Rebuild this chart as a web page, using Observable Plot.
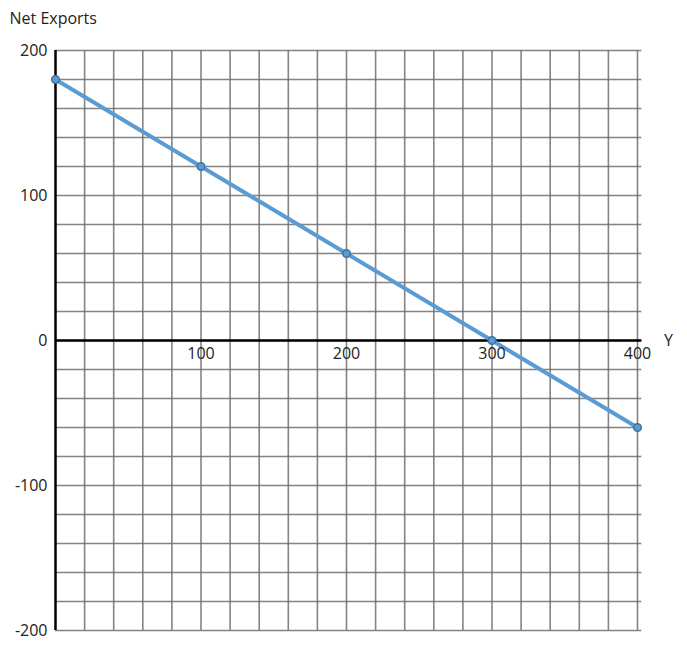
<!DOCTYPE html>
<html>
<head>
<meta charset="utf-8">
<script src="https://cdn.jsdelivr.net/npm/d3@7"></script>
<script src="https://cdn.jsdelivr.net/npm/@observablehq/plot@0.6"></script>
<style>
  html, body { margin: 0; padding: 0; background: #fff; }
  #chart svg { display: block; }
</style>
</head>
<body>
<div id="chart"></div>
<script>
const incomeY = [0, 100, 200, 300, 400];
const netExports = [180, 120, 60, 0, -60];
const xTickLabels = [100, 200, 300, 400];
const yTickLabels = [200, 100, 0, -100, -200];
const xGridLines = d3.range(20, 401, 20);
const yGridLines = d3.range(-200, 201, 20);
const data = incomeY.map((x, i) => ({x, y: netExports[i]}));

const font = "'Open Sans', 'Noto Sans', sans-serif";
const blue = "#5b9bd5";

const chart = Plot.plot({
  width: 687,
  height: 655,
  marginLeft: 55,
  marginRight: 50,
  marginTop: 50,
  marginBottom: 25,
  style: {fontFamily: font, fontSize: "16px", color: "#222", background: "#fff"},
  x: {domain: [0, 400], axis: null},
  y: {domain: [-200, 200], axis: null},
  marks: [
    Plot.ruleX(xGridLines, {x: d => d, y1: -200, y2: 200, stroke: "#6e6e6e", strokeWidth: 1.6, strokeOpacity: 0.85}),
    Plot.ruleY(yGridLines, {y: d => d, x1: 0, x2: 403, stroke: "#6e6e6e", strokeWidth: 1.6, strokeOpacity: 0.85}),
    Plot.ruleX([0], {y1: -200, y2: 200, stroke: "#000", strokeWidth: 2.5}),
    Plot.ruleY([0], {x1: 0, x2: 403, stroke: "#000", strokeWidth: 2.5}),
    Plot.line(data, {x: "x", y: "y", stroke: blue, strokeWidth: 4}),
    Plot.dot(data, {x: "x", y: "y", r: 3.8, fill: blue, stroke: "#41719c", strokeWidth: 1.5}),
    Plot.text(xTickLabels, {x: d => d, y: 0, dy: 13, text: d => String(d), fontSize: 16, fill: "#222"}),
    Plot.text(yTickLabels, {x: 0, y: d => d, dx: -8, textAnchor: "end", text: d => String(d), fontSize: 16, fill: "#222"}),
    Plot.text(["Y"], {x: 400, y: 0, dx: 31, dy: 0, text: d => d, fontSize: 16, fill: "#222"}),
    Plot.text(["Net Exports"], {frameAnchor: "top-left", dx: -46, dy: -38, textAnchor: "start", text: d => d, fontSize: 16, fill: "#222"})
  ]
});
document.getElementById("chart").appendChild(chart);
</script>
</body>
</html>
